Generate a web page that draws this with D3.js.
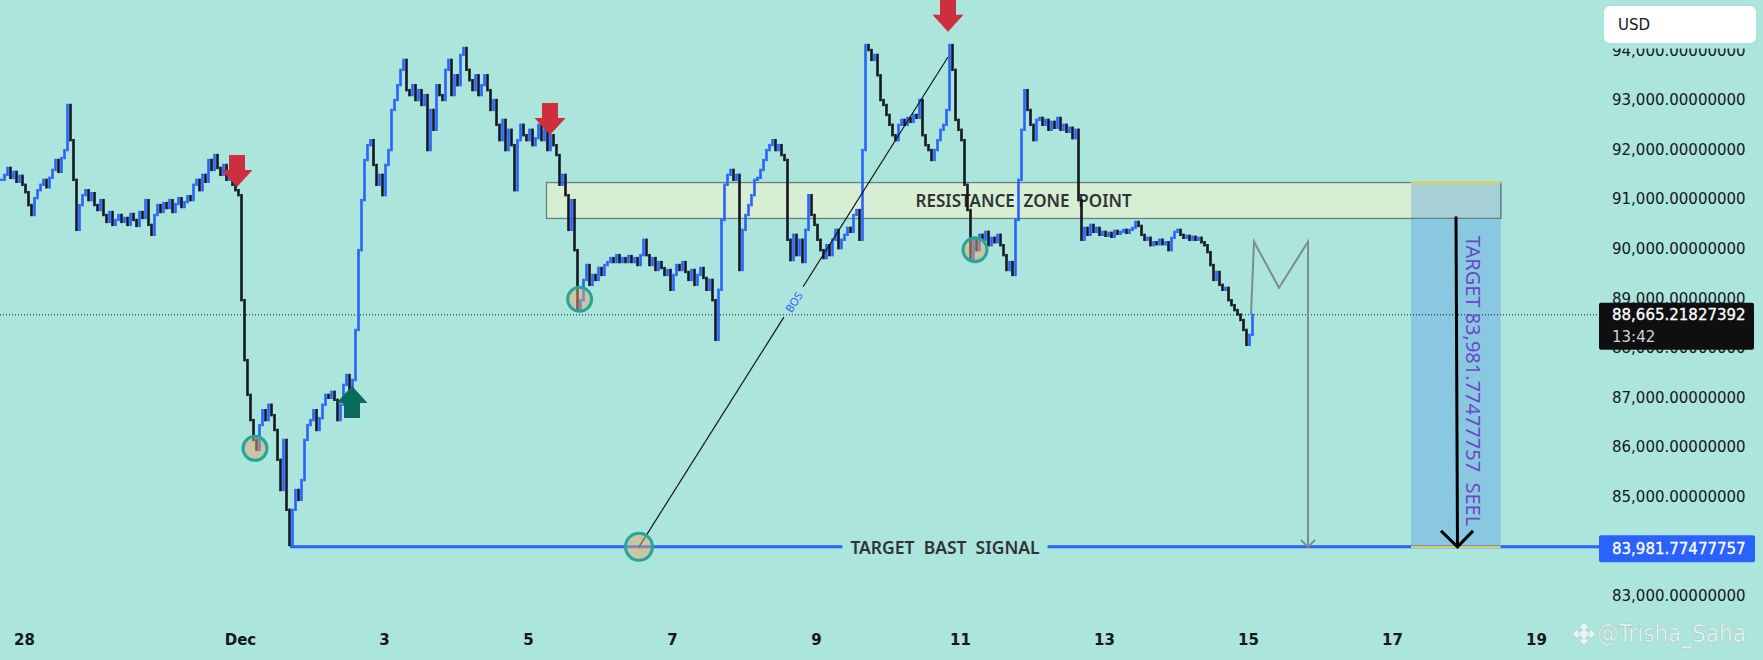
<!DOCTYPE html>
<html><head><meta charset="utf-8">
<script src="https://cdn.jsdelivr.net/npm/d3@7"></script>
<style>
html,body{margin:0;padding:0;background:#ace5dc;}
svg{display:block;}
</style></head><body>
<svg id="chart" width="1763" height="660"></svg>
<script>
// ---------------- DATA ----------------
const startTime = Date.UTC(2025, 10, 27, 16); // first hourly candle
const hourlyCloses = [
 91390, 91490, 91630, 91430, 91550, 91350, 91470, 91290, 91140, 90880, 90680, 91020, 91180, 91290, 91390, 91240, 91430, 91590, 91790, 91550,
 91830, 91990, 92900, 92190, 91390, 90380, 90880, 91080, 91180, 90980, 91120, 90880, 90780, 90980, 90680, 90540, 90740, 90480, 90580, 90680,
 90540, 90620, 90480, 90700, 90580, 90460, 90740, 90620, 90980, 90480, 90280, 90680, 90880, 90740, 90920, 90820, 90980, 90740, 90900, 91020,
 90840, 90940, 91060, 90980, 91290, 91390, 91180, 91490, 91350, 91790, 91590, 91890, 91630, 91490, 91690, 91390, 91550, 91290, 91180, 91080,
 88960, 87750, 87050, 86540, 86140, 85940, 86440, 86740, 86540, 86850, 86640, 86340, 85740, 85130, 86140, 84730, 84020, 84730, 85130, 84930,
 85330, 86140, 86440, 86540, 86740, 86340, 86580, 86850, 87050, 86990, 87110, 86950, 86540, 86850, 87250, 87450, 87150, 87350, 88360, 89970,
 90980, 91790, 92090, 92190, 91690, 91290, 91490, 91080, 91690, 91990, 92800, 93000, 93300, 93610, 93810, 93200, 93100, 93300, 93000, 93200,
 92900, 93100, 91990, 92800, 92400, 93300, 93100, 93000, 93610, 93810, 93100, 93500, 93300, 93910, 94050, 93610, 93400, 93200, 93500, 93100,
 93300, 93500, 93200, 92800, 93000, 92500, 92190, 92600, 91990, 92400, 92090, 91180, 92190, 92500, 92290, 92190, 92400, 92090, 92230, 92500,
 92190, 92400, 91990, 92290, 92090, 91890, 91290, 91490, 91080, 90380, 90980, 89970, 88760, 88960, 89370, 89670, 89270, 89470, 89370, 89610,
 89470, 89670, 89730, 89810, 89730, 89870, 89730, 89810, 89730, 89850, 89730, 89810, 89670, 89870, 90180, 89870, 89670, 89810, 89570, 89730,
 89610, 89470, 89570, 89170, 89470, 89670, 89570, 89730, 89530, 89370, 89570, 89270, 89470, 89610, 89410, 89170, 89370, 88960, 88160, 89170,
 90580, 91290, 91490, 91590, 91390, 91490, 89570, 90380, 90680, 90880, 91080, 91390, 91430, 91590, 91790, 91990, 92090, 92190, 91990, 92090,
 91890, 91790, 90180, 89770, 90280, 89870, 90180, 89730, 90380, 91080, 90680, 90480, 90180, 89970, 89810, 90070, 89870, 90180, 90380, 90010,
 90180, 90280, 90420, 90340, 90680, 90780, 90180, 91990, 94110, 94010, 93810, 93910, 93500, 93000, 92900, 92700, 92500, 92290, 92190, 92500,
 92600, 92500, 92640, 92560, 92700, 92640, 93000, 92290, 92090, 91990, 91790, 91990, 92190, 92400, 92500, 92800, 94110, 93610, 92600, 92400,
 92190, 91290, 90780, 89770, 90180, 89970, 90280, 90180, 90340, 90070, 90220, 90130, 90280, 90070, 89870, 89570, 89730, 89470, 90580, 91390,
 92400, 93200, 92800, 92500, 92190, 92600, 92640, 92500, 92600, 92400, 92560, 92440, 92640, 92400, 92500, 92360, 92440, 92230, 92400, 90980,
 90180, 90420, 90280, 90480, 90340, 90420, 90280, 90340, 90260, 90320, 90240, 90360, 90300, 90340, 90380, 90320, 90380, 90420, 90540, 90460,
 90280, 90180, 90220, 90070, 90130, 90090, 90180, 90090, 90130, 89970, 90220, 90340, 90380, 90280, 90220, 90260, 90180, 90240, 90180, 90220,
 90130, 90070, 89930, 89670, 89370, 89530, 89270, 89170, 89210, 88960, 88860, 88760, 88670, 88560, 88360, 88060, 88260, 88665.21827392
];
const priceTicks = [83000, 84000, 85000, 86000, 87000, 88000, 89000, 90000, 91000, 92000, 93000, 94000];
const dateTickValues = [
 Date.UTC(2025,10,28), Date.UTC(2025,11,1), Date.UTC(2025,11,3), Date.UTC(2025,11,5), Date.UTC(2025,11,7),
 Date.UTC(2025,11,9), Date.UTC(2025,11,11), Date.UTC(2025,11,13), Date.UTC(2025,11,15), Date.UTC(2025,11,17), Date.UTC(2025,11,19)
];
const dateTickLabels = ["28", "Dec", "3", "5", "7", "9", "11", "13", "15", "17", "19"];
const lastPrice = 88665.21827392;
const countdownText = "13:42";
const targetPrice = 83981.77477757;
const resistanceZone = {from: Date.UTC(2025,11,5,6,10), to: Date.UTC(2025,11,18,12,15), low: 90610, high: 91335};
const targetBox = {from: Date.UTC(2025,11,17,6,20), to: Date.UTC(2025,11,18,12,15), high: 91335, low: targetPrice};
const targetArrow = {time: Date.UTC(2025,11,17,21,20), from: 90650, to: targetPrice};
const targetTextAnchor = {time: Date.UTC(2025,11,18,3,0), price: 87330};
const targetLineStart = Date.UTC(2025,11,1,16,40);
const swingCircles = [
 {time: Date.UTC(2025,11,1,5,0), price: 85970},
 {time: Date.UTC(2025,11,5,17,12), price: 88980},
 {time: Date.UTC(2025,11,11,5,0), price: 89980}
];
const bosStart = {time: Date.UTC(2025,11,6,13,0), price: targetPrice};
const bosEnd = {time: Date.UTC(2025,11,10,20,0), price: 93868};
const sellArrows = [
 {time: Date.UTC(2025,10,30,23,0), price: 91244},
 {time: Date.UTC(2025,11,5,7,20), price: 92294},
 {time: Date.UTC(2025,11,10,20,0), price: 94378}
];
const buyArrows = [{time: Date.UTC(2025,11,2,13,20), price: 87228}];
const projectionPath = [
 {time: Date.UTC(2025,11,15,1,0), price: lastPrice},
 {time: Date.UTC(2025,11,15,2,0), price: 90140},
 {time: Date.UTC(2025,11,15,10,20), price: 89212},
 {time: Date.UTC(2025,11,15,20,0), price: 90140},
 {time: Date.UTC(2025,11,15,20,0), price: targetPrice}
];
const labels = {
 resistance: "RESISTANCE  ZONE  POINT",
 target: "TARGET  BAST  SIGNAL",
 targetVertical: "TARGET 83,981.77477757  SEEL",
 bos: "BOS",
 currency: "USD",
 watermark: "@Trisha_Saha"
};

// ---------------- LAYOUT ----------------
const W = 1763, H = 660, plotRight = 1600, plotBottom = 622;
const BG = "#ace5dc";
const axisFont = "'DejaVu Sans', sans-serif";
const labelFont = "'Noto Sans', 'Open Sans', sans-serif";

const x = d3.scaleUtc().domain([startTime, Date.UTC(2025,11,19,21,20)]).range([0, plotRight]);
const y = d3.scaleLinear().domain([83000, 94000]).range([595.5, 50.5]);

const svg = d3.select("#chart");
svg.append("rect").attr("width", W).attr("height", H).attr("fill", BG);

const plot = svg.append("g");
plot.append("clipPath").attr("id","clip").append("rect").attr("x",0).attr("y",0).attr("width",plotRight).attr("height",plotBottom);
const g = plot.append("g").attr("clip-path","url(#clip)");

// resistance zone
g.append("rect")
 .attr("x", x(resistanceZone.from)).attr("width", x(resistanceZone.to) - x(resistanceZone.from))
 .attr("y", y(resistanceZone.high)).attr("height", y(resistanceZone.low) - y(resistanceZone.high))
 .attr("fill", "#d7eed2").attr("stroke", "#5f8282").attr("stroke-width", 1.3);
g.append("text")
 .attr("x", (x(resistanceZone.from) + x(resistanceZone.to)) / 2)
 .attr("y", y((resistanceZone.low + resistanceZone.high) / 2))
 .attr("text-anchor","middle").attr("dominant-baseline","central")
 .style("white-space","pre")
 .attr("font-family", labelFont).attr("font-size", 17).attr("font-weight", 600)
 .attr("fill", "#2f3438").text(labels.resistance);

// target box (blue)
const tbX0 = x(targetBox.from), tbX1 = x(targetBox.to);
g.append("rect").attr("x", tbX0).attr("width", tbX1 - tbX0)
 .attr("y", y(resistanceZone.low)).attr("height", y(targetBox.low) - y(resistanceZone.low))
 .attr("fill", "#8ac8e2");
g.append("rect").attr("x", tbX0).attr("width", tbX1 - tbX0)
 .attr("y", y(targetBox.high)).attr("height", y(resistanceZone.low) - y(targetBox.high))
 .attr("fill", "#a7cfd6");
g.append("line").attr("x1", tbX0).attr("x2", tbX1).attr("y1", y(resistanceZone.low)).attr("y2", y(resistanceZone.low))
 .attr("stroke", "#5f8282").attr("stroke-width", 1.3);
g.append("line").attr("x1", tbX1).attr("x2", tbX1).attr("y1", y(resistanceZone.high)).attr("y2", y(resistanceZone.low))
 .attr("stroke", "#5f8282").attr("stroke-width", 1.3);

// target line with gap for label
const tlX0 = x(targetLineStart), tlMid = (tlX0 + plotRight) / 2, tY = y(targetPrice);
const targetText = g.append("text")
 .attr("x", tlMid).attr("y", tY)
 .attr("text-anchor","middle").attr("dominant-baseline","central")
 .style("white-space","pre")
 .attr("font-family", labelFont).attr("font-size", 17.5).attr("font-weight", 600)
 .attr("fill", "#2f3438").text(labels.target);
const tw = targetText.node().getComputedTextLength();
[[tlX0, tlMid - tw/2 - 8], [tlMid + tw/2 + 8, plotRight]].forEach(([a,b]) => {
 g.append("line").attr("x1", a).attr("x2", b).attr("y1", tY).attr("y2", tY)
  .attr("stroke", "#2962ff").attr("stroke-width", 3);
});
[targetBox.high, targetBox.low].forEach(p => {
 g.append("line").attr("x1", tbX0).attr("x2", tbX1).attr("y1", y(p)).attr("y2", y(p))
  .attr("stroke", "#ddcd5c").attr("stroke-width", 2.2);
});

// current price dotted line
g.append("line").attr("x1", 0).attr("x2", plotRight).attr("y1", y(lastPrice)).attr("y2", y(lastPrice))
 .attr("stroke", "#131722").attr("stroke-width", 1).attr("stroke-dasharray", "1,2");

// candles (open = previous close)
const candles = hourlyCloses.map((c, i) => ({t: startTime + i * 3600e3, o: i ? hourlyCloses[i-1] : c, c}));
g.append("g").selectAll("rect").data(candles).join("rect")
 .attr("x", d => x(d.t + 1800e3) - 1.3)
 .attr("width", 2.6)
 .attr("y", d => Math.min(y(d.o), y(d.c)) - 1.2)
 .attr("height", d => Math.abs(y(d.o) - y(d.c)) + 2.4)
 .attr("fill", d => d.c >= d.o ? "#2962ff" : "#131722");

// swing circles
g.selectAll("circle.swing").data(swingCircles).join("circle")
 .attr("cx", d => x(d.time)).attr("cy", d => y(d.price)).attr("r", 12)
 .attr("fill", "rgba(228,167,110,0.5)").attr("stroke", "#26a69a").attr("stroke-width", 3);

// BOS line
const bx0 = x(bosStart.time), by0 = y(bosStart.price), bx1 = x(bosEnd.time), by1 = y(bosEnd.price);
const blen = Math.hypot(bx1 - bx0, by1 - by0);
const gapT = 18 / blen;
const lerp = t => [bx0 + (bx1 - bx0) * t, by0 + (by1 - by0) * t];
[[0, 0.5 - gapT], [0.5 + gapT, 1]].forEach(([a,b]) => {
 const p = lerp(a), q = lerp(b);
 g.append("line").attr("x1", p[0]).attr("y1", p[1]).attr("x2", q[0]).attr("y2", q[1])
  .attr("stroke", "#131722").attr("stroke-width", 1.2);
});
const bm = lerp(0.5);
const bang = Math.atan2(by1 - by0, bx1 - bx0) * 180 / Math.PI;
g.append("text").attr("transform", `translate(${bm[0]},${bm[1]}) rotate(${bang})`)
 .attr("text-anchor","middle").attr("dominant-baseline","central")
 .attr("font-family", labelFont).attr("font-size", 11).attr("fill", "#2962ff").text(labels.bos);
g.append("circle").attr("cx", bx0).attr("cy", by0).attr("r", 13.5)
 .attr("fill", "rgba(228,167,110,0.5)").attr("stroke", "#26a69a").attr("stroke-width", 3);

// projection zigzag
const line = d3.line().x(d => x(d.time)).y(d => y(d.price));
g.append("path").attr("d", line(projectionPath)).attr("fill","none")
 .attr("stroke", "#7b8e8e").attr("stroke-width", 2);
const pe = projectionPath[projectionPath.length - 1];
const pex = x(pe.time), pey = y(pe.price);
g.append("path").attr("d", `M${pex-7},${pey-7}L${pex},${pey}L${pex+7},${pey-7}`)
 .attr("fill","none").attr("stroke", "#7b8e8e").attr("stroke-width", 2);

// black arrow in target box
const ax = x(targetArrow.time), ay0 = y(targetArrow.from), ay1 = y(targetArrow.to);
g.append("line").attr("x1", ax).attr("x2", ax + 1.5).attr("y1", ay0).attr("y2", ay1)
 .attr("stroke", "#000").attr("stroke-width", 3);
g.append("path").attr("d", `M${ax-15},${ay1-16}L${ax+1.5},${ay1}L${ax+17},${ay1-16}`)
 .attr("fill","none").attr("stroke", "#000").attr("stroke-width", 3);

// vertical target text
g.append("text")
 .attr("transform", `translate(${x(targetTextAnchor.time)},${y(targetTextAnchor.price)}) rotate(90)`)
 .attr("text-anchor","middle").attr("dominant-baseline","central")
 .style("white-space","pre")
 .attr("font-family", labelFont).attr("font-size", 20).attr("fill", "#6a48c6").text(labels.targetVertical);

// arrows
const downArrow = "M-8,-32L8,-32L8,-17L15.5,-17L0,0L-15.5,-17L-8,-17Z";
g.selectAll("path.sell").data(sellArrows).join("path")
 .attr("d", downArrow).attr("transform", d => `translate(${x(d.time)},${y(d.price)})`)
 .attr("fill", "#cc2f3d");
g.selectAll("path.buy").data(buyArrows).join("path")
 .attr("d", downArrow).attr("transform", d => `translate(${x(d.time)},${y(d.price)}) scale(1,-1)`)
 .attr("fill", "#0a6b5a");

// ---------------- AXES ----------------
const yAxis = d3.axisRight(y).tickValues(priceTicks).tickSize(0).tickPadding(12).tickFormat(d3.format(",.8f"));
const ya = svg.append("g").attr("transform", `translate(${plotRight},0)`).call(yAxis);
ya.select(".domain").remove();
ya.selectAll("text").attr("font-family", axisFont).attr("font-size", 15).attr("fill", "#131722");

const xAxis = d3.axisBottom(x).tickValues(dateTickValues).tickSize(0).tickPadding(12).tickFormat((d, i) => dateTickLabels[i]);
const xa = svg.append("g").attr("transform", `translate(0,${plotBottom})`).call(xAxis);
xa.select(".domain").remove();
xa.selectAll("text").attr("font-family", axisFont).attr("font-size", 15).attr("font-weight", "bold").attr("fill", "#131722");

// currency box
svg.append("rect").attr("x", plotRight).attr("y", 0).attr("width", W - plotRight).attr("height", 48.5).attr("fill", BG);
svg.append("rect").attr("x", 1604).attr("y", 6).attr("width", 152).attr("height", 37).attr("rx", 6)
 .attr("fill", "#ffffff");
svg.append("text").attr("x", 1618).attr("y", 24.5).attr("dominant-baseline","central")
 .attr("font-family", axisFont).attr("font-size", 15).attr("fill", "#131722").text(labels.currency);

// last price label
const lpY = y(lastPrice);
svg.append("rect").attr("x", 1599).attr("y", lpY - 12).attr("width", 155).attr("height", 47).attr("rx", 2).attr("fill", "#0f0f0f");
svg.append("text").attr("x", 1612).attr("y", lpY).attr("dominant-baseline","central")
 .attr("font-family", axisFont).attr("font-size", 15).attr("fill", "#ffffff")
 .attr("stroke", "#ffffff").attr("stroke-width", 0.3)
 .text(d3.format(",.8f")(lastPrice));
svg.append("text").attr("x", 1612).attr("y", lpY + 22).attr("dominant-baseline","central")
 .attr("font-family", axisFont).attr("font-size", 15).attr("fill", "#d1d4dc").text(countdownText);

// target price label
svg.append("rect").attr("x", 1599).attr("y", tY - 11.5).attr("width", 156).attr("height", 27).attr("rx", 2).attr("fill", "#2962ff");
svg.append("text").attr("x", 1612).attr("y", tY + 2).attr("dominant-baseline","central")
 .attr("font-family", axisFont).attr("font-size", 15).attr("fill", "#ffffff")
 .attr("stroke", "#ffffff").attr("stroke-width", 0.3)
 .text(d3.format(",.8f")(targetPrice));

// watermark
const wm = svg.append("g").attr("opacity", 0.92);
const lcx = 1584, lcy = 634;
[[0,-7],[-7,0],[7,0],[0,7],[0,0]].forEach(([dx,dy], i) => {
 const s = i === 4 ? 4 : 3.2;
 wm.append("rect").attr("x", -s).attr("y", -s).attr("width", 2*s).attr("height", 2*s)
  .attr("transform", `translate(${lcx+dx},${lcy+dy}) rotate(45)`)
  .attr("fill", "#eef7f5").attr("stroke", "rgba(0,0,0,0.18)").attr("stroke-width", 0.6);
});
wm.append("text").attr("x", 1597).attr("y", 634).attr("dominant-baseline","central")
 .attr("font-family", "'DejaVu Sans Condensed', 'DejaVu Sans', sans-serif").attr("font-size", 24)
 .attr("fill", "#eef7f5").attr("stroke", "rgba(0,0,0,0.2)").attr("stroke-width", 0.6)
 .text(labels.watermark);
</script>
</body></html>
